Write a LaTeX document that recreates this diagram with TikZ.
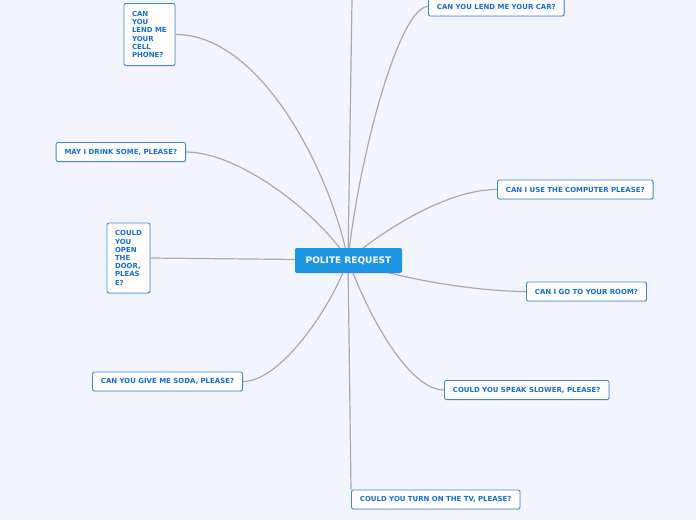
\documentclass[tikz,border=0pt]{standalone}
\usepackage{fontspec}
\setmainfont{DejaVu Sans}
\usetikzlibrary{backgrounds,shadows,calc}
\definecolor{bgc}{HTML}{F2F5FD}
\definecolor{edgec}{HTML}{A8AAB0}
\definecolor{boxc}{HTML}{3F87E0}
\definecolor{txtc}{HTML}{156ED8}
\definecolor{rootc}{HTML}{1E96E6}
\tikzset{
  leaf/.style={draw=boxc, line width=0.9pt, fill=white, rounded corners=2pt,
    text=txtc, font=\fontsize{6.95}{8.2}\selectfont\bfseries,
    inner xsep=8.5pt, inner ysep=0pt, minimum height=19pt,
    drop shadow={opacity=0.2, shadow xshift=0.6pt, shadow yshift=-1pt}},
  tallleaf/.style={leaf, align=left, anchor=center, inner xsep=0pt},
  rootbox/.style={fill=rootc, rounded corners=2pt, text=white,
    font=\fontsize{9}{10}\selectfont\bfseries, minimum width=107pt, minimum height=25pt, inner sep=0pt},
  link/.style={draw=edgec, line width=1.2pt}
}
\begin{document}
\begin{tikzpicture}[x=1pt,y=-1pt]
\useasboundingbox (0,0) rectangle (696,520);
\node[rootbox] (root) at (348.5,260.5) {POLITE REQUEST};
\coordinate (c) at (348,260);
\coordinate (topend) at (352,0);
\node[leaf, anchor=west] (car) at (428,6.5) {CAN YOU LEND ME YOUR CAR?};
\node[leaf, anchor=west] (comp) at (497,189.5) {CAN I USE THE COMPUTER PLEASE?};
\node[leaf, anchor=west] (room) at (526,291.5) {CAN I GO TO YOUR ROOM?};
\node[leaf, anchor=west] (slow) at (444,390) {COULD YOU SPEAK SLOWER, PLEASE?};
\node[leaf, anchor=west] (tv) at (351,499.5) {COULD YOU TURN ON THE TV, PLEASE?};
\node[leaf, anchor=east] (soda) at (243,381.5) {CAN YOU GIVE ME SODA, PLEASE?};
\node[leaf, anchor=east] (drink) at (186,152) {MAY I DRINK SOME, PLEASE?};
\node[tallleaf, minimum width=51pt, minimum height=62pt, text width=35pt] (phone) at (149.5,34.5) {CAN\\YOU\\LEND ME\\YOUR\\CELL\\PHONE?};
\node[tallleaf, minimum width=43pt, minimum height=70pt, text width=27pt] (door) at (128.5,258) {COULD\\YOU\\OPEN\\THE\\DOOR,\\PLEAS\\E?};
\begin{scope}[on background layer]
\fill[bgc] (0,0) rectangle (696,520);
\draw[link] (c) -- (topend);
\draw[link] (c) .. controls (360,150) and (400,6.5) .. (car.west);
\draw[link] (c) .. controls (390,225) and (450,189.5) .. (comp.west);
\draw[link] (c) .. controls (400,280) and (480,291.5) .. (room.west);
\draw[link] (c) .. controls (370,320) and (410,390) .. (slow.west);
\draw[link] (c) -- (tv.north west);
\draw[link] (c) .. controls (330,310) and (280,381.5) .. (soda.east);
\draw[link] (c) -- (door.east);
\draw[link] (c) .. controls (320,215) and (240,152) .. (drink.east);
\draw[link] (c) .. controls (330,170) and (260,34) .. (phone.east);
\end{scope}
\end{tikzpicture}
\end{document}
